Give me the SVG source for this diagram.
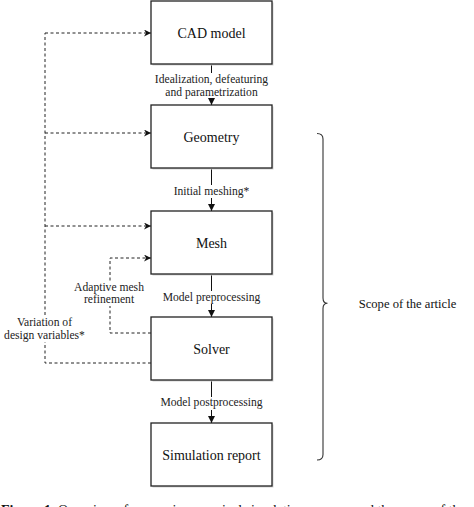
<svg xmlns="http://www.w3.org/2000/svg" width="474" height="507" viewBox="0 0 474 507">
<defs>
<marker id="arr" viewBox="0 0 10 10" refX="10" refY="5" markerWidth="7" markerHeight="7" markerUnits="userSpaceOnUse" orient="auto">
<path d="M0,0 L10,5 L0,10 Z" fill="#111"/>
</marker>
<marker id="arrd" viewBox="0 0 10 10" refX="10" refY="5" markerWidth="7" markerHeight="7" markerUnits="userSpaceOnUse" orient="auto">
<path d="M0,0 L10,5 L0,10 L3,5 Z" fill="#111"/>
</marker>
</defs>
<style>
.box{fill:#fff;stroke:#222;stroke-width:1.3}
.sh{fill:#d4d4d4}
.nt{font-family:"Liberation Serif","Times New Roman",serif;font-size:14px;fill:#111;text-anchor:middle}
.lt{font-family:"Liberation Serif","Times New Roman",serif;font-size:11.6px;fill:#222;text-anchor:middle}
.solid{fill:none;stroke:#111;stroke-width:1}
.dash{fill:none;stroke:#222;stroke-width:1;stroke-dasharray:3 2.5}
.bg{fill:#fff}
.cap{font-family:"Liberation Serif","Times New Roman",serif;font-size:14px;fill:#111}
</style>
<rect width="474" height="507" fill="#fff"/>
<g id="connectors">
<line class="solid" x1="211.5" y1="64" x2="211.5" y2="105" marker-end="url(#arr)"/>
<line class="solid" x1="211.5" y1="168" x2="211.5" y2="211" marker-end="url(#arr)"/>
<line class="solid" x1="211.5" y1="274" x2="211.5" y2="317" marker-end="url(#arr)"/>
<line class="solid" x1="211.5" y1="380" x2="211.5" y2="423" marker-end="url(#arr)"/>
<path class="dash" d="M151,363 H45 V33"/>
<line class="dash" x1="45" y1="33" x2="151" y2="33" marker-end="url(#arrd)"/>
<line class="dash" x1="45" y1="133" x2="151" y2="133" marker-end="url(#arrd)"/>
<line class="dash" x1="45" y1="226" x2="151" y2="226" marker-end="url(#arrd)"/>
<path class="dash" d="M151,333 H110 V258 H151" marker-end="url(#arrd)"/>
<rect class="bg" x="154" y="73" width="115" height="25"/>
<text class="lt" x="211.5" y="83">Idealization, defeaturing</text>
<text class="lt" x="211.5" y="95.5">and parametrization</text>
<rect class="bg" x="173" y="185" width="77" height="13"/>
<text class="lt" x="211.5" y="195">Initial meshing*</text>
<rect class="bg" x="161" y="291" width="101" height="13"/>
<text class="lt" x="211.5" y="300.5">Model preprocessing</text>
<rect class="bg" x="158" y="397" width="107" height="13"/>
<text class="lt" x="211.5" y="406">Model postprocessing</text>
<rect class="bg" x="72" y="281" width="74" height="25"/>
<text class="lt" x="109" y="291">Adaptive mesh</text>
<text class="lt" x="109" y="303">refinement</text>
<rect class="bg" x="3" y="315" width="84" height="27"/>
<text class="lt" x="44.5" y="325.5">Variation of</text>
<text class="lt" x="44.5" y="338.5">design variables*</text>
</g>
<g id="cad">
<rect class="sh" x="152.5" y="2.5" width="121" height="63"/>
<rect class="box" x="151" y="1" width="121" height="63"/>
<text class="nt" x="211.5" y="38">CAD model</text>
</g>
<g id="geometry">
<rect class="sh" x="152.5" y="106.5" width="121" height="63"/>
<rect class="box" x="151" y="105" width="121" height="63"/>
<text class="nt" x="211.5" y="142">Geometry</text>
</g>
<g id="mesh">
<rect class="sh" x="152.5" y="212.5" width="121" height="63"/>
<rect class="box" x="151" y="211" width="121" height="63"/>
<text class="nt" x="211.5" y="248">Mesh</text>
</g>
<g id="solver">
<rect class="sh" x="152.5" y="318.5" width="121" height="63"/>
<rect class="box" x="151" y="317" width="121" height="63"/>
<text class="nt" x="211.5" y="354">Solver</text>
</g>
<g id="report">
<rect class="sh" x="152.5" y="424.5" width="121" height="63"/>
<rect class="box" x="151" y="423" width="121" height="63"/>
<text class="nt" x="211.5" y="460">Simulation report</text>
</g>
<g id="scope">
<path fill="none" stroke="#333" stroke-width="1.1" d="M317,133.5 Q323,133.5 323,139 V298 Q323,303.3 327.5,303.3 Q323,303.3 323,308.6 V454.5 Q323,460 317,460"/>
<text x="407.5" y="308" font-family="'Liberation Serif','Times New Roman',serif" font-size="12.6" fill="#111" text-anchor="middle">Scope of the article</text>
</g>
<text class="cap" x="1" y="515"><tspan font-weight="bold">Figure 1.</tspan> Overview of a generic numerical simulation process and the scope of the article.</text>
</svg>
